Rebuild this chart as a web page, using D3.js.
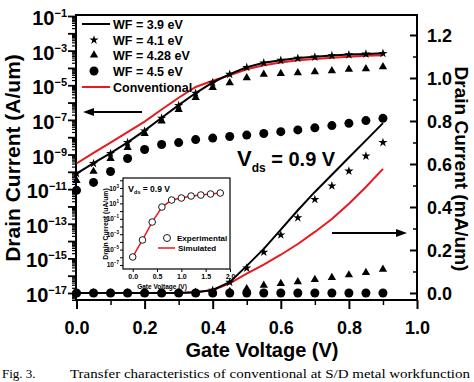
<!DOCTYPE html>
<html><head><meta charset="utf-8">
<script src="https://cdn.jsdelivr.net/npm/d3@7"></script>
<style>
html,body{margin:0;padding:0;background:#fff;overflow:hidden}
svg{display:block;font-family:"Liberation Sans",Arial,sans-serif}
</style></head><body>
<svg id="c" width="474" height="382"></svg>
<script>
// ---------------- DATA ----------------
const gateVoltage = [0.00,0.05,0.10,0.15,0.20,0.25,0.30,0.35,0.40,0.45,0.50,0.55,0.60,0.65,0.70,0.75,0.80,0.85,0.90];
// log10 of drain current (A/um), left axis
const logWF39  = [-10.1,-9.5,-8.92,-8.3,-7.62,-6.88,-6.15,-5.45,-4.84,-4.36,-3.96,-3.7,-3.55,-3.43,-3.36,-3.28,-3.23,-3.19,-3.15];
const logWF41  = [-10.1,-9.52,-8.94,-8.31,-7.64,-6.9,-6.17,-5.46,-4.85,-4.37,-3.97,-3.71,-3.56,-3.44,-3.37,-3.29,-3.24,-3.2,-3.16];
const logWF428 = [-10.5,-9.98,-9.23,-8.6,-7.79,-7.07,-6.41,-5.72,-5.14,-4.86,-4.57,-4.37,-4.32,-4.28,-4.22,-4.17,-4.08,-4.05,-3.94];
const logWF45  = [-11.07,-10.61,-9.98,-9.23,-8.71,-8.42,-8.31,-8.14,-8.05,-7.96,-7.88,-7.79,-7.68,-7.58,-7.46,-7.33,-7.2,-7.04,-6.91];
const logConv  = [-9.52,-8.91,-8.31,-7.71,-7.1,-6.4,-5.72,-5.1,-4.74,-4.42,-4.08,-3.85,-3.68,-3.56,-3.48,-3.41,-3.35,-3.3,-3.26];
// drain current (mA/um), right axis
const linWF39  = [0,0,0,0,0,0,0,0.003,0.014,0.05,0.126,0.205,0.295,0.385,0.47,0.55,0.63,0.71,0.79];
const linWF41  = [0,0,0,0,0,0,0,0.003,0.013,0.05,0.116,0.19,0.27,0.35,0.435,0.498,0.567,0.637,0.70];
const linWF428 = [0,0,0,0,0,0,0,0,0,0.007,0.02,0.036,0.044,0.052,0.062,0.072,0.084,0.095,0.11];
const linWF45  = [0,0,0,0,0,0,0,0,0,0,0,0,0,0,0,0,0,0,0];
const linConv  = [0,0,0,0,0,0,0,0.003,0.013,0.045,0.09,0.132,0.178,0.228,0.284,0.344,0.415,0.493,0.577];
// inset (log10 of uA/um)
const insetVg   = [0.0,0.2,0.4,0.6,0.8,1.0,1.2,1.4,1.6,1.8];
const insetExp  = [-5.96,-3.75,-1.42,0.53,1.44,1.7,1.96,2.09,2.22,2.35];
const insetSim  = [-5.96,-3.75,-1.42,0.53,1.44,1.7,1.96,2.09,2.22,2.35];
const xTicks = [0.0,0.2,0.4,0.6,0.8,1.0];
const leftTickExps = [-17,-15,-13,-11,-9,-7,-5,-3,-1];
const rightTicks = [0.0,0.2,0.4,0.6,0.8,1.0,1.2];
const insetXTicks = [0.0,0.5,1.0,1.5,2.0];
const insetYTickExps = [-7,-5,-3,-1,1,3];
const legendLabels = ["WF = 3.9 eV","WF = 4.1 eV","WF = 4.28 eV","WF = 4.5 eV","Conventional"];

// ---------------- SCALES ----------------
const svg = d3.select("#c");
const L=76, R=417, T=15, B=300;
const x = d3.scaleLinear().domain([0,1]).range([76.5,417]);
const yLog = d3.scaleLog().domain([Math.pow(10,-17.404),Math.pow(10,-0.942)]).range([B,T]);
const yLin = d3.scaleLinear().domain([-0.0326,1.293]).range([B,T]);
const RED="#e8191f";

// x axis
const gx = svg.append("g").attr("transform",`translate(0,${B})`)
  .call(d3.axisBottom(x).tickValues(xTicks).tickSize(9).tickFormat(d3.format(".1f")));
gx.select(".domain").remove();
gx.selectAll("line").attr("stroke-width",2);
gx.selectAll("text").attr("y",34).attr("dy",null).attr("font-size",18).attr("font-weight","bold").attr("fill","#000");
const gxm = svg.append("g").attr("transform",`translate(0,${B})`)
  .call(d3.axisBottom(x).tickValues([0.1,0.3,0.5,0.7,0.9]).tickSize(5).tickFormat(""));
gxm.select(".domain").remove(); gxm.selectAll("line").attr("stroke-width",1.5);

// left log axis
const decades = d3.range(-17,0).map(e=>Math.pow(10,e));
const minors=[]; d3.range(-18,-1).forEach(e=>{for(let k=2;k<10;k++){const v=k*Math.pow(10,e); if(v>yLog.domain()[0]&&v<yLog.domain()[1]) minors.push(v);}});
const gl = svg.append("g").attr("transform",`translate(${L},0)`)
  .call(d3.axisLeft(yLog).tickValues(decades).tickSize(8).tickFormat(""));
gl.select(".domain").remove(); gl.selectAll("line").attr("stroke-width",1.8);
const glm = svg.append("g").attr("transform",`translate(${L},0)`)
  .call(d3.axisLeft(yLog).tickValues(minors).tickSize(4).tickFormat(""));
glm.select(".domain").remove(); glm.selectAll("line").attr("stroke-width",1.2);
const lbl = svg.append("g").selectAll("text").data(leftTickExps).join("text")
  .attr("x",67).attr("y",d=>yLog(Math.pow(10,d))+9).attr("text-anchor","end")
  .attr("font-weight","bold");
lbl.append("tspan").attr("font-size",20).text("10");
lbl.append("tspan").attr("font-size",11).attr("dy",-8).text(d=>"\u2212"+(-d));

// right linear axis
const gr = svg.append("g").attr("transform",`translate(${R},0)`)
  .call(d3.axisRight(yLin).tickValues(rightTicks).tickSize(-7).tickPadding(10).tickFormat(d3.format(".1f")));
gr.select(".domain").remove(); gr.selectAll("line").attr("stroke-width",2);
gr.selectAll("text").attr("font-size",18).attr("font-weight","bold").attr("fill","#000").attr("dy","0.36em");
const grm = svg.append("g").attr("transform",`translate(${R},0)`)
  .call(d3.axisRight(yLin).tickValues([0.1,0.3,0.5,0.7,0.9,1.1]).tickSize(-4).tickFormat(""));
grm.select(".domain").remove(); grm.selectAll("line").attr("stroke-width",1.5);

// frame
svg.append("rect").attr("x",L).attr("y",T).attr("width",R-L).attr("height",B-T)
  .attr("fill","none").attr("stroke","#000").attr("stroke-width",2);

// axis titles
svg.append("text").attr("x",262).attr("y",357).attr("text-anchor","middle")
  .attr("font-size",20).attr("font-weight","bold").text("Gate Voltage (V)");
svg.append("text").attr("transform","translate(20,158) rotate(-90)").attr("text-anchor","middle")
  .attr("font-size",21).attr("font-weight","bold").text("Drain Current (A/um)");
svg.append("text").attr("transform","translate(455,169) rotate(90)").attr("text-anchor","middle")
  .attr("font-size",19).attr("font-weight","bold").text("Drain Current (mA/um)");

// ---------------- MARKS ----------------
const plot = svg.append("g");
const lineLog = d3.line().x((d,i)=>x(gateVoltage[i])).y(d=>yLog(Math.pow(10,d)));
const lineLin = d3.line().x((d,i)=>x(gateVoltage[i])).y(d=>yLin(d));
const star = d3.symbol().type(d3.symbolStar).size(26);
const tri = d3.symbol().type(d3.symbolTriangle).size(30);

function markers(vals, fy, sym){
  if(sym==="circle"){
    plot.append("g").selectAll("circle").data(vals).join("circle")
      .attr("cx",(d,i)=>x(gateVoltage[i])).attr("cy",fy).attr("r",4.5).attr("fill","#000");
  } else {
    plot.append("g").selectAll("path").data(vals).join("path")
      .attr("transform",(d,i)=>`translate(${x(gateVoltage[i])},${fy(d)})`).attr("d",sym).attr("fill","#000");
  }
}
plot.append("path").attr("d",lineLog(logConv)).attr("fill","none").attr("stroke",RED).attr("stroke-width",2);
plot.append("path").attr("d",lineLin(linConv)).attr("fill","none").attr("stroke",RED).attr("stroke-width",2);
plot.append("path").attr("d",lineLog(logWF39)).attr("fill","none").attr("stroke","#000").attr("stroke-width",2);
plot.append("path").attr("d",lineLin(linWF39)).attr("fill","none").attr("stroke","#000").attr("stroke-width",2);
const fLog = d=>yLog(Math.pow(10,d));
const fLin = d=>yLin(d);
markers(logWF41, fLog, star);
markers(linWF41, fLin, star);
markers(logWF428, fLog, tri);
markers(linWF428, fLin, tri);
markers(logWF45, fLog, "circle");
markers(linWF45, fLin, "circle");

// arrows
function arrow(x1,x2,y){
  plot.append("line").attr("x1",x1).attr("x2",x2+(x2>x1?-8:8)).attr("y1",y).attr("y2",y).attr("stroke","#000").attr("stroke-width",2);
  const dir = x2>x1?1:-1;
  plot.append("path").attr("d",`M${x2},${y} L${x2-dir*11},${y-4} L${x2-dir*11},${y+4} Z`).attr("fill","#000");
}
arrow(142,83,112);
arrow(332,407,233);

// V_ds label
const vt = svg.append("text").attr("x",237).attr("y",166).attr("font-weight","bold");
vt.append("tspan").attr("font-size",22).text("V");
vt.append("tspan").attr("font-size",12).attr("dy",6).text("ds");
vt.append("tspan").attr("font-size",20).attr("dy",-6).text(" = 0.9 V");

// legend
const lg = svg.append("g");
const ly = [24,40,55,71,87];
lg.append("line").attr("x1",82).attr("x2",110).attr("y1",ly[0]).attr("y2",ly[0]).attr("stroke","#000").attr("stroke-width",2);
lg.append("path").attr("transform",`translate(94,${ly[1]})`).attr("d",star);
lg.append("path").attr("transform",`translate(94,${ly[2]})`).attr("d",tri);
lg.append("circle").attr("cx",94).attr("cy",ly[3]).attr("r",4.5);
lg.append("line").attr("x1",82).attr("x2",110).attr("y1",ly[4]).attr("y2",ly[4]).attr("stroke",RED).attr("stroke-width",2);
lg.selectAll("text").data(legendLabels).join("text").attr("x",113).attr("y",(d,i)=>ly[i]+4.5)
  .attr("font-size",12.5).attr("font-weight","bold").text(d=>d);

// ---------------- INSET ----------------
const IL=123, IR=230, IT=178, IB=269;
const xi = d3.scaleLinear().domain([-0.2,2.0]).range([IL,IR]);
const yi = d3.scaleLog().domain([Math.pow(10,-7.52),Math.pow(10,4.3)]).range([IB,IT]);
const ins = svg.append("g");
ins.append("rect").attr("x",IL).attr("y",IT).attr("width",IR-IL).attr("height",IB-IT).attr("fill","#fff").attr("stroke","#000").attr("stroke-width",1.2);
const gix = ins.append("g").attr("transform",`translate(0,${IB})`)
  .call(d3.axisBottom(xi).tickValues(insetXTicks).tickSize(3).tickPadding(2).tickFormat(d3.format(".1f")));
gix.select(".domain").remove();
gix.selectAll("text").attr("font-size",7).attr("font-weight","bold").attr("fill","#000");
const giy = ins.append("g").attr("transform",`translate(${IL},0)`)
  .call(d3.axisLeft(yi).tickValues(d3.range(-7,5).map(e=>Math.pow(10,e))).tickSize(3).tickFormat(""));
giy.select(".domain").remove();
const il = ins.append("g").selectAll("text").data(insetYTickExps).join("text")
  .attr("x",119).attr("y",d=>yi(Math.pow(10,d))+2.5).attr("text-anchor","end").attr("font-weight","bold");
il.append("tspan").attr("font-size",6.5).text("10");
il.append("tspan").attr("font-size",4.5).attr("dy",-3).text(d=>d<0?"\u2212"+(-d):d);
ins.append("text").attr("x",162).attr("y",289).attr("text-anchor","middle").attr("font-size",6.5).attr("font-weight","bold").text("Gate Voltage (V)");
ins.append("text").attr("transform","translate(108,224) rotate(-90)").attr("text-anchor","middle").attr("font-size",6.8).attr("font-weight","bold").text("Drain Current (uA/um)");
const iv = ins.append("text").attr("x",128).attr("y",192).attr("font-weight","bold");
iv.append("tspan").attr("font-size",9).text("V");
iv.append("tspan").attr("font-size",5.5).attr("dy",2).text("ds");
iv.append("tspan").attr("font-size",8.5).attr("dy",-2).text(" = 0.9 V");
const ilineF = d3.line().x((d,i)=>xi(insetVg[i])).y(d=>yi(Math.pow(10,d)));
ins.append("path").attr("d",ilineF(insetSim)).attr("fill","none").attr("stroke",RED).attr("stroke-width",1.5);
ins.append("g").selectAll("circle").data(insetExp).join("circle")
  .attr("cx",(d,i)=>xi(insetVg[i])).attr("cy",d=>yi(Math.pow(10,d))).attr("r",3.3)
  .attr("fill","#fff").attr("stroke","#000").attr("stroke-width",0.9);
ins.append("circle").attr("cx",167).attr("cy",238).attr("r",3.5).attr("fill","#fff").attr("stroke","#000").attr("stroke-width",0.9);
ins.append("text").attr("x",177).attr("y",241).attr("font-size",8).attr("font-weight","bold").text("Experimental");
ins.append("line").attr("x1",158).attr("x2",175).attr("y1",248).attr("y2",248).attr("stroke",RED).attr("stroke-width",1.5);
ins.append("text").attr("x",178).attr("y",251).attr("font-size",8).attr("font-weight","bold").text("Simulated");

// caption
const cap = svg.append("g").attr("font-family","'Liberation Serif',serif").attr("font-size",13);
cap.append("text").attr("x",2).attr("y",378).text("Fig.  3.");
cap.append("text").attr("x",70).attr("y",378).attr("textLength",400).attr("lengthAdjust","spacingAndGlyphs")
  .text("Transfer characteristics of conventional at S/D metal workfunction");
</script>
</body></html>
